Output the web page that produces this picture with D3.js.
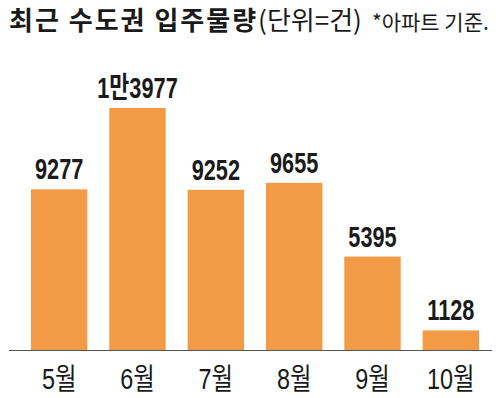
<!DOCTYPE html>
<html>
<head>
  <meta charset="utf-8">
  <style>
    body {
      margin: 0;
      background: #fff;
    }
    svg {
      display: block;
      background: #fff;
    }
    .bar {
      fill: #f39a46;
    }
    .value {
      font-family: "Liberation Sans", Arial, "Noto Sans CJK KR", sans-serif;
      font-weight: bold;
      font-size: 29px;
      fill: #1a1a1a;
    }
    .month {
      font-family: "Liberation Sans", Arial, "Noto Sans CJK KR", sans-serif;
      font-size: 30px;
      fill: #1a1a1a;
    }
    .title {
      font-family: "Noto Sans CJK KR", sans-serif;
      fill: #1a1a1a;
    }
  </style>
  <script src="https://cdn.jsdelivr.net/npm/d3@7"></script>
</head>
<body>
  <script>
    const months = ["5월", "6월", "7월", "8월", "9월", "10월"];
    const values = [9277, 13977, 9252, 9655, 5395, 1128];
    const valueLabels = ["9277", "1만3977", "9252", "9655", "5395", "1128"];

    const width = 500;
    const height = 398;
    const baseY = 350;

    const svg = d3.select("body")
      .append("svg")
      .attr("width", width)
      .attr("height", height);

    // title line
    const title = svg.append("text")
      .attr("class", "title")
      .attr("x", 9)
      .attr("y", 30);
    title.append("tspan")
      .attr("font-size", 26)
      .attr("font-weight", "bold")
      .attr("letter-spacing", 2)
      .text("최근 수도권 입주물량");
    title.append("tspan")
      .attr("font-size", 26)
      .attr("font-weight", "normal")
      .text("(단위=건)");
    title.append("tspan")
      .attr("dx", 10)
      .attr("font-size", 21)
      .attr("font-weight", "normal")
      .text("*아파트 기준.");

    const x = d3.scaleBand()
      .domain(months)
      .range([20, 490])
      .paddingInner(0.28)
      .paddingOuter(0.14);

    const y = d3.scaleLinear()
      .domain([0, 13977])
      .range([baseY, 108]);

    const data = months.map((m, i) => ({ month: m, value: values[i], label: valueLabels[i] }));

    svg.selectAll(".bar")
      .data(data)
      .join("rect")
      .attr("class", "bar")
      .attr("x", d => x(d.month))
      .attr("y", d => y(d.value))
      .attr("width", x.bandwidth())
      .attr("height", d => baseY - y(d.value));

    // baseline
    svg.append("line")
      .attr("x1", 9)
      .attr("x2", 492)
      .attr("y1", baseY + 0.5)
      .attr("y2", baseY + 0.5)
      .style("stroke", "#555")
      .style("stroke-width", 1.2);

    // value labels (condensed look)
    svg.selectAll(".value")
      .data(data)
      .join("text")
      .attr("class", "value")
      .attr("text-anchor", "middle")
      .attr("transform", d => `translate(${x(d.month) + x.bandwidth() / 2},${y(d.value) - 10}) scale(0.75,1)`)
      .text(d => d.label);

    // month labels
    svg.selectAll(".month")
      .data(data)
      .join("text")
      .attr("class", "month")
      .attr("text-anchor", "middle")
      .attr("transform", d => `translate(${x(d.month) + x.bandwidth() / 2},389) scale(0.78,1)`)
      .text(d => d.month);
  </script>
</body>
</html>
